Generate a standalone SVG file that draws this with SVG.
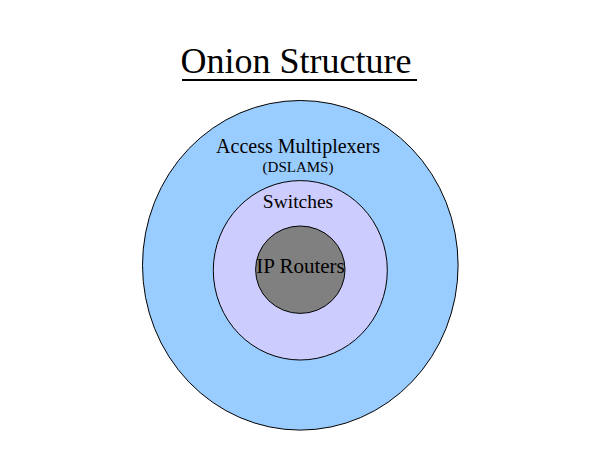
<svg xmlns="http://www.w3.org/2000/svg" width="600" height="450" viewBox="0 0 600 450">
<style>
.ring{stroke:#000;stroke-width:1}
.t{font-family:"Liberation Serif","Times New Roman",serif;fill:#000;text-anchor:middle}
</style>
<rect width="600" height="450" fill="#fff"/>
<g id="title">
<text class="t" x="296" y="73" font-size="36">Onion Structure</text>
<line x1="182" y1="80" x2="417" y2="80" stroke="#000" stroke-width="2"/>
</g>
<g id="access">
<ellipse class="ring" cx="300.3" cy="265.3" rx="157.8" ry="164.8" fill="#99CCFF"/>
<text class="t" x="298" y="153" font-size="20">Access Multiplexers</text>
<text class="t" x="298" y="172" font-size="15">(DSLAMS)</text>
</g>
<g id="switches">
<ellipse class="ring" cx="300.3" cy="270.3" rx="87" ry="89.7" fill="#CCCCFF"/>
<text class="t" x="298" y="207.5" font-size="19.5">Switches</text>
</g>
<g id="routers">
<ellipse class="ring" cx="300.3" cy="269.7" rx="44.7" ry="43.7" fill="#808080"/>
<text class="t" x="300.5" y="273" font-size="21">IP Routers</text>
</g>
<g id="connectors"/>
</svg>
